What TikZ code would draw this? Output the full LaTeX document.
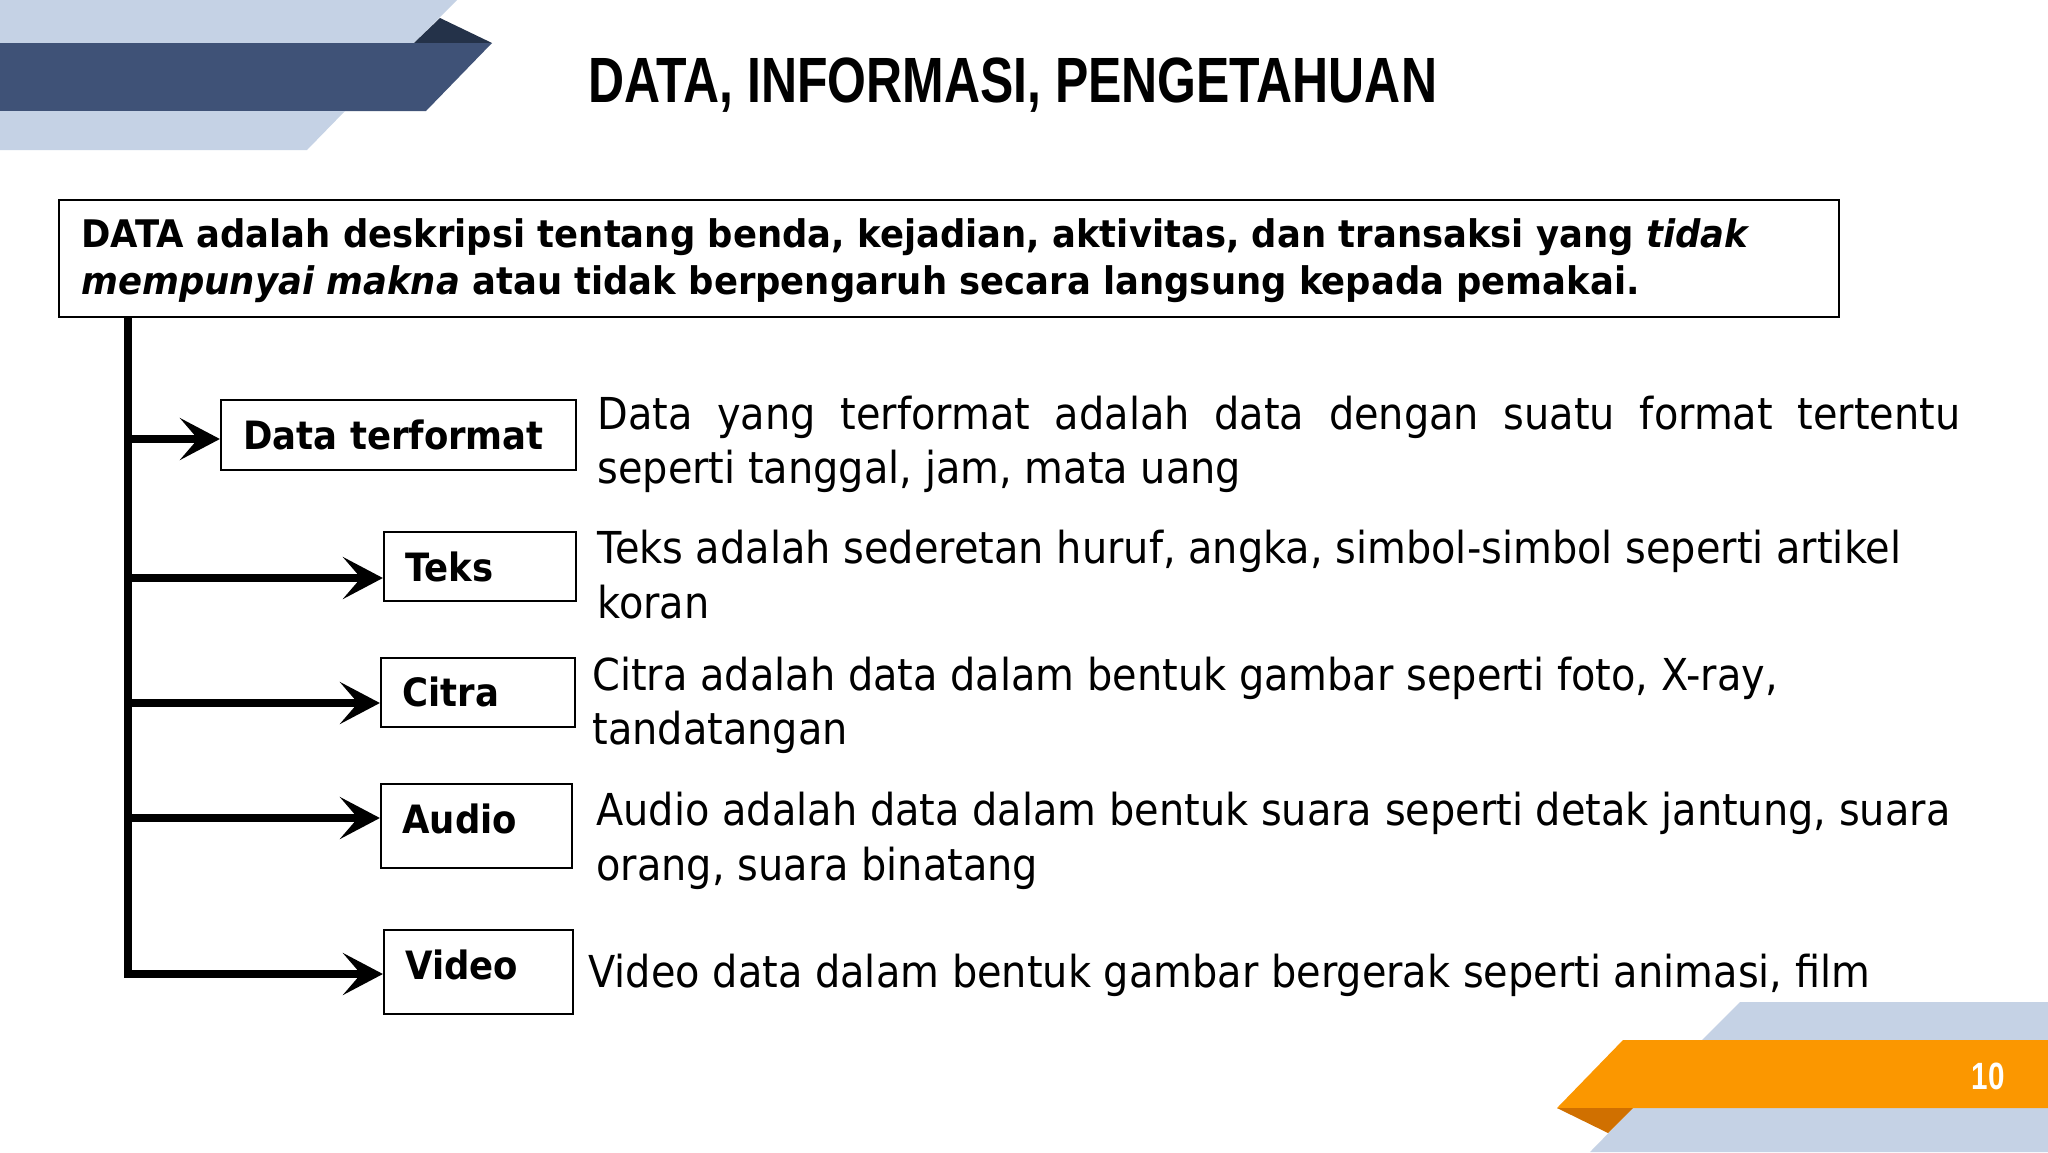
\documentclass[tikz,border=0pt]{standalone}
\usepackage{fontspec}
\usetikzlibrary{arrows.meta,fit}
\newfontfamily\titlefont[FakeStretch=0.78]{Liberation Sans}
\newfontfamily\descfont[FakeStretch=0.906]{DejaVu Sans}
\newfontfamily\labfont[FakeStretch=0.91]{DejaVu Sans}
\newfontfamily\deffont[FakeStretch=0.932]{DejaVu Sans}
\definecolor{lightband}{RGB}{197,210,229}
\definecolor{navyband}{RGB}{63,82,119}
\definecolor{navydark}{RGB}{36,50,73}
\definecolor{orangeband}{RGB}{251,151,0}
\definecolor{orangedark}{RGB}{208,112,0}
\begin{document}
\begin{tikzpicture}[x=0.5pt,y=-0.5pt,
  box/.style={draw=black, line width=1.1pt, inner sep=0pt},
  lab/.style={anchor=base west, inner sep=0pt, font=\labfont\bfseries\fontsize{19.5pt}{23pt}\selectfont},
  deftext/.style={anchor=base west, inner sep=0pt, font=\deffont\bfseries\fontsize{19pt}{23.5pt}\selectfont},
  desc/.style={anchor=base west, inner sep=0pt, font=\descfont\fontsize{22pt}{27pt}\selectfont},
  trunk/.style={line width=4pt},
  arr/.style={line width=4pt, -{Stealth[length=20pt,width=21pt,inset=9pt]}}
]
\useasboundingbox (0,0) rectangle (2048,1152);
\fill[white] (0,0) rectangle (2048,1152);

% top-left decoration
\fill[lightband] (0,0) -- (457,0) -- (414,43) -- (0,43) -- cycle;
\fill[navydark] (414,43) -- (440,18) -- (492,43) -- cycle;
\fill[navyband] (0,43) -- (492,43) -- (426,111) -- (0,111) -- cycle;
\fill[lightband] (0,111) -- (345,111) -- (307,150) -- (0,150) -- cycle;

% bottom-right decoration
\fill[lightband] (1740,1002) -- (2048,1002) -- (2048,1040) -- (1702,1040) -- cycle;
\fill[lightband] (1633,1108) -- (2048,1108) -- (2048,1152) -- (1590,1152) -- cycle;
\fill[orangeband] (1623,1040) -- (2048,1040) -- (2048,1108) -- (1557,1108) -- cycle;
\fill[orangedark] (1557,1108) -- (1633,1108) -- (1608,1133) -- cycle;
\node[inner sep=0pt, text=white, font=\titlefont\bfseries\fontsize{19pt}{22pt}\selectfont] (pagenum) at (1988,1076) {10};

% title
\node[anchor=base west, inner sep=0pt, font=\titlefont\bfseries\fontsize{32pt}{38pt}\selectfont] (title) at (588,102) {DATA, INFORMASI, PENGETAHUAN};

% definition box
\node[box, fit={(59,200) (1839,317)}] (def) {};
\node[deftext] (def1) at (81,247) {DATA adalah deskripsi tentang benda, kejadian, aktivitas, dan transaksi yang \textit{tidak}};
\node[deftext] (def2) at (81,294) {\textit{mempunyai makna} atau tidak berpengaruh secara langsung kepada pemakai.};

% category boxes
\node[box, fit={(221,400) (576,470)}] (bformat) {};
\node[box, fit={(384,532) (576,601)}] (bteks) {};
\node[box, fit={(381,658) (575,727)}] (bcitra) {};
\node[box, fit={(381,784) (572,868)}] (baudio) {};
\node[box, fit={(384,930) (573,1014)}] (bvideo) {};

\node[lab] (lformat) at (243,449) {Data terformat};
\node[lab] (lteks) at (405,581) {Teks};
\node[lab] (lcitra) at (402,706) {Citra};
\node[lab] (laudio) at (402,833) {Audio};
\node[lab] (lvideo) at (405,979) {Video};

% descriptions
\node[desc] (dformat1) at (597,429) {\makebox[681.5pt][s]{Data yang terformat adalah data dengan suatu format tertentu}};
\node[desc] (dformat2) at (597,483) {seperti tanggal, jam, mata uang};
\node[desc] (dteks1) at (597,563) {Teks adalah sederetan huruf, angka, simbol-simbol seperti artikel};
\node[desc] (dteks2) at (597,618) {koran};
\node[desc] (dcitra1) at (592,690) {Citra adalah data dalam bentuk gambar seperti foto, X-ray,};
\node[desc] (dcitra2) at (592,744) {tandatangan};
\node[desc] (daudio1) at (596,825) {Audio adalah data dalam bentuk suara seperti detak jantung, suara};
\node[desc] (daudio2) at (596,880) {orang, suara binatang};
\node[desc] (dvideo1) at (588,987) {Video data dalam bentuk gambar bergerak seperti animasi, film};

% tree connectors
\coordinate (j1) at (128,439);
\coordinate (j2) at (128,578);
\coordinate (j3) at (128,703);
\coordinate (j4) at (128,818);
\coordinate (j5) at (128,974);
\coordinate (tend) at (128,978);
\draw[trunk] (def.south -| j1) -- (tend);
\draw[arr] (j1) -- (j1 -| bformat.west);
\draw[arr] (j2) -- (j2 -| bteks.west);
\draw[arr] (j3) -- (j3 -| bcitra.west);
\draw[arr] (j4) -- (j4 -| baudio.west);
\draw[arr] (j5) -- (j5 -| bvideo.west);
\end{tikzpicture}
\end{document}
